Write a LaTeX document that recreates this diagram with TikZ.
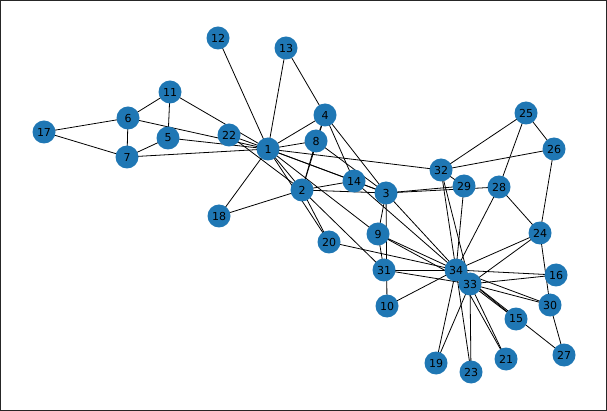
\documentclass[tikz,border=0pt]{standalone}
\usepackage{fontspec}
\setmainfont{DejaVu Sans}
\definecolor{nb}{HTML}{1F77B4}
\begin{document}
\begin{tikzpicture}[x=1pt,y=-1pt,
  nd/.style={circle,fill=nb,minimum size=23pt,inner sep=0pt,font=\fontsize{11}{11}\selectfont},
  ed/.style={draw=black,line width=0.8pt}]
\useasboundingbox (0,0) rectangle (607,411);
\draw[line width=1.2pt,color=black!85] (0.6,0.6) rectangle (606.4,410.4);
\foreach \n/\x/\y in {1/268/149,2/302/190,3/386/193,4/325/115,5/168/138,6/128/118,7/127/157,8/316/141,9/378/234,10/387/306,11/170/92,12/218/38,13/286/48,14/354/181,15/516/319,16/556/275,17/44/132,18/219/216,19/436/363,20/329/242,21/506/359,22/229/135,23/471/372,24/540/233,25/526/113,26/554/149,27/564/355,28/499/187,29/464/186,30/550/305,31/384/270,32/441/170,33/470/284,34/456/270}
  \coordinate (c\n) at (\x,\y);
\foreach \a/\b in {1/2,1/3,1/4,1/5,1/6,1/7,1/8,1/9,1/11,1/12,1/13,1/14,1/18,1/20,1/22,1/32,
 2/3,2/4,2/8,2/14,2/18,2/20,2/22,2/31,3/4,3/8,3/9,3/10,3/14,3/28,3/29,3/33,4/8,4/13,4/14,
 5/7,5/11,6/7,6/11,6/17,7/17,9/31,9/33,9/34,10/34,14/34,15/33,15/34,16/33,16/34,19/33,19/34,
 20/34,21/33,21/34,23/33,23/34,24/26,24/28,24/30,24/33,24/34,25/26,25/28,25/32,26/32,27/30,27/34,
 28/34,29/32,29/34,30/33,30/34,31/33,31/34,32/33,32/34,33/34}
  \draw[ed] (c\a) -- (c\b);
\foreach \n in {1,...,34}
  \node[nd] (n\n) at (c\n) {\n};
\end{tikzpicture}
\end{document}
